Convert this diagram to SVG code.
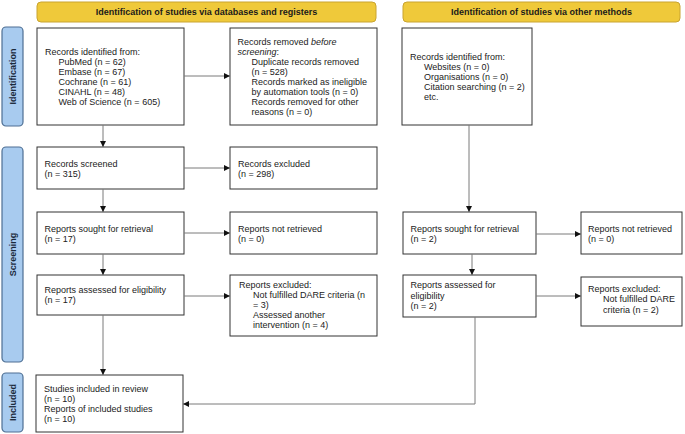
<svg xmlns="http://www.w3.org/2000/svg" width="685" height="434" viewBox="0 0 685 434">
<defs>
<marker id="ah" viewBox="0 0 6 6" refX="6" refY="3" markerWidth="6" markerHeight="6" markerUnits="userSpaceOnUse" orient="auto">
<path d="M0,0 L6,3 L0,6 Z" fill="#111"/>
</marker>
<style>
.hdr{fill:#EFC93A;stroke:#C9A430;stroke-width:1}
.side{fill:#A8CBEF;stroke:#4E6F93;stroke-width:1.2}
.box{fill:#fff;stroke:#333;stroke-width:1}
.ht{font-family:"Liberation Sans",Arial,sans-serif;font-size:9px;font-weight:bold;fill:#1a1a1a;text-anchor:middle}
.st{font-family:"Liberation Sans",Arial,sans-serif;font-size:9px;font-weight:bold;fill:#1B2A3C;text-anchor:middle}
.t{font-family:"Liberation Sans",Arial,sans-serif;font-size:9px;fill:#222}
.c{fill:none;stroke:#7a7a7a;stroke-width:1}
</style>
</defs>
<rect width="685" height="434" fill="#fff"/>

<g id="header-databases"><rect class="hdr" x="37" y="2" width="339" height="20" rx="4"/><text class="ht" x="206.5" y="15">Identification of studies via databases and registers</text></g>
<g id="header-other"><rect class="hdr" x="403" y="2" width="277" height="20" rx="4"/><text class="ht" x="541.5" y="15">Identification of studies via other methods</text></g>

<g id="side-identification"><rect class="side" x="2" y="27" width="21" height="99" rx="4"/><text class="st" transform="translate(15.5,76.5) rotate(-90)">Identification</text></g>
<g id="side-screening"><rect class="side" x="2" y="147" width="21" height="215" rx="4"/><text class="st" transform="translate(15.5,254.5) rotate(-90)">Screening</text></g>
<g id="side-included"><rect class="side" x="2" y="373" width="21" height="59" rx="4"/><text class="st" transform="translate(15.5,402.5) rotate(-90)">Included</text></g>

<g id="records-identified"><rect class="box" x="37" y="28" width="147" height="97"/>
<text class="t" x="45" y="55">Records identified from:</text>
<text class="t" x="58.5" y="65">PubMed (n = 62)</text>
<text class="t" x="58.5" y="75">Embase (n = 67)</text>
<text class="t" x="58.5" y="85">Cochrane (n = 61)</text>
<text class="t" x="58.5" y="95">CINAHL (n = 48)</text>
<text class="t" x="58.5" y="105">Web of Science (n = 605)</text></g>

<g id="records-removed"><rect class="box" x="230" y="28" width="147" height="97"/>
<text class="t" x="237.5" y="45">Records removed <tspan font-style="italic">before</tspan></text>
<text class="t" x="237.5" y="55"><tspan font-style="italic">screening</tspan>:</text>
<text class="t" x="251.5" y="65">Duplicate records removed</text>
<text class="t" x="251.5" y="75">(n = 528)</text>
<text class="t" x="251.5" y="85">Records marked as ineligible</text>
<text class="t" x="251.5" y="95">by automation tools (n = 0)</text>
<text class="t" x="251.5" y="105">Records removed for other</text>
<text class="t" x="251.5" y="115">reasons (n = 0)</text></g>

<g id="records-other"><rect class="box" x="402" y="28" width="130" height="97"/>
<text class="t" x="410" y="60">Records identified from:</text>
<text class="t" x="424" y="70">Websites (n = 0)</text>
<text class="t" x="424" y="80">Organisations (n = 0)</text>
<text class="t" x="424" y="90">Citation searching (n = 2)</text>
<text class="t" x="424" y="100">etc.</text></g>

<g id="records-screened"><rect class="box" x="37" y="147" width="147" height="42"/>
<text class="t" x="44.5" y="166.5">Records screened</text>
<text class="t" x="44.5" y="176.5">(n = 315)</text></g>

<g id="records-excluded"><rect class="box" x="230" y="147" width="147" height="42"/>
<text class="t" x="238" y="166.5">Records excluded</text>
<text class="t" x="238" y="176.5">(n = 298)</text></g>

<g id="reports-sought"><rect class="box" x="37" y="212" width="147" height="42"/>
<text class="t" x="44.5" y="231.5">Reports sought for retrieval</text>
<text class="t" x="44.5" y="241.5">(n = 17)</text></g>

<g id="reports-not-retrieved"><rect class="box" x="230" y="212" width="147" height="42"/>
<text class="t" x="238" y="231.5">Reports not retrieved</text>
<text class="t" x="238" y="241.5">(n = 0)</text></g>

<g id="reports-assessed"><rect class="box" x="37" y="275" width="147" height="40"/>
<text class="t" x="44.5" y="293">Reports assessed for eligibility</text>
<text class="t" x="44.5" y="303">(n = 17)</text></g>

<g id="reports-excluded"><rect class="box" x="230" y="275" width="147" height="61"/>
<text class="t" x="239" y="288">Reports excluded:</text>
<text class="t" x="253" y="298">Not fulfilled DARE criteria (n</text>
<text class="t" x="253" y="308">= 3)</text>
<text class="t" x="253" y="318">Assessed another</text>
<text class="t" x="253" y="328">intervention (n = 4)</text></g>

<g id="studies-included"><rect class="box" x="36" y="375" width="147" height="57"/>
<text class="t" x="44" y="391.5">Studies included in review</text>
<text class="t" x="44" y="401.5">(n = 10)</text>
<text class="t" x="44" y="411.5">Reports of included studies</text>
<text class="t" x="44" y="421.5">(n = 10)</text></g>

<g id="reports-sought-other"><rect class="box" x="403" y="212" width="133" height="42"/>
<text class="t" x="410.5" y="231.5">Reports sought for retrieval</text>
<text class="t" x="410.5" y="241.5">(n = 2)</text></g>

<g id="reports-not-retrieved-other"><rect class="box" x="581" y="212" width="101" height="42"/>
<text class="t" x="588" y="231.5">Reports not retrieved</text>
<text class="t" x="588" y="241.5">(n = 0)</text></g>

<g id="reports-assessed-other"><rect class="box" x="403" y="275" width="133" height="42"/>
<text class="t" x="410.5" y="288">Reports assessed for</text>
<text class="t" x="410.5" y="298.5">eligibility</text>
<text class="t" x="410.5" y="309">(n = 2)</text></g>

<g id="reports-excluded-other"><rect class="box" x="581" y="277" width="101" height="49"/>
<text class="t" x="588" y="291.5">Reports excluded:</text>
<text class="t" x="603" y="302">Not fulfilled DARE</text>
<text class="t" x="603" y="312.5">criteria (n = 2)</text></g>

<g id="connectors">
<path class="c" d="M184,76 H230" marker-end="url(#ah)"/>
<path class="c" d="M103,125 V147" marker-end="url(#ah)"/>
<path class="c" d="M184,168 H230" marker-end="url(#ah)"/>
<path class="c" d="M103,189 V212" marker-end="url(#ah)"/>
<path class="c" d="M184,233 H230" marker-end="url(#ah)"/>
<path class="c" d="M103,254 V275" marker-end="url(#ah)"/>
<path class="c" d="M184,296 H230" marker-end="url(#ah)"/>
<path class="c" d="M103,315 V375" marker-end="url(#ah)"/>
<path class="c" d="M469,125 V212" marker-end="url(#ah)"/>
<path class="c" d="M536,234 H581" marker-end="url(#ah)"/>
<path class="c" d="M472,254 V275" marker-end="url(#ah)"/>
<path class="c" d="M536,296 H581" marker-end="url(#ah)"/>
<path class="c" d="M475,317 V404 H183" marker-end="url(#ah)"/>
</g>
</svg>
